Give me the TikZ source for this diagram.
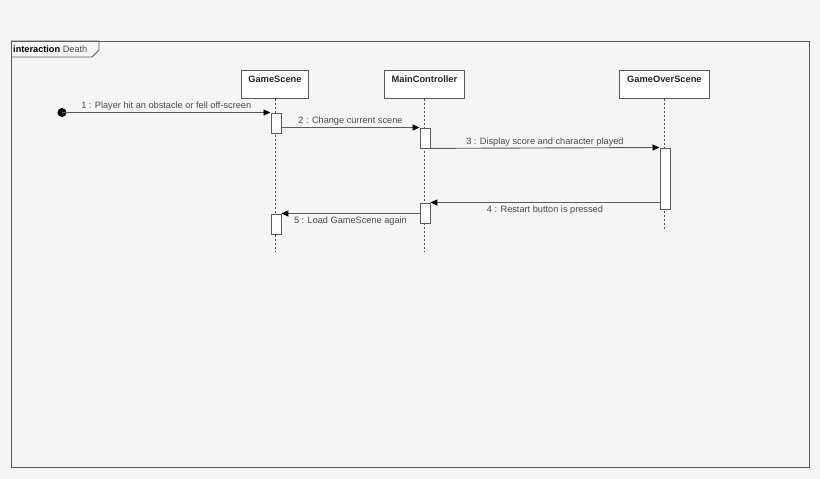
\documentclass[tikz,border=0pt]{standalone}
\usepackage{fontspec}
\setmainfont{Liberation Sans}
\definecolor{bgGray}{HTML}{F5F5F5}
\definecolor{lineGray}{HTML}{5A5A5A}
\definecolor{textGray}{HTML}{4A4A4A}
\usetikzlibrary{arrows.meta,positioning}

\tikzset{
  head/.style={draw=lineGray, line width=0.9pt, fill=white, minimum height=28pt, anchor=north west, inner sep=0pt,
    font=\fontsize{9.3}{11}\selectfont\bfseries, text=black!85, align=center, text depth=10pt},
  activation/.style={draw=lineGray, line width=0.9pt, fill=white, minimum width=10pt, anchor=north west, inner sep=0pt},
  lifeline/.style={draw=black!70, line width=1pt, dash pattern=on 2pt off 2pt},
  msg/.style={draw=lineGray, line width=0.9pt, -{Triangle[length=7pt,width=6pt,color=black]}},
  msglabel/.style={font=\fontsize{9.2}{11}\selectfont, text=textGray, inner sep=1.5pt}
}

\begin{document}
\begin{tikzpicture}[x=1pt, y=-1pt]
  \useasboundingbox[fill=bgGray] (0,0) rectangle (820,479);
  % Frame
  \draw[lineGray, line width=0.9pt] (11,41) rectangle (809,467);
  \draw[lineGray, line width=0.9pt] (11,41) -- (99,41) -- (99,50) -- (92,57) -- (11,57);
  \node[anchor=west, inner sep=0pt, font=\fontsize{9.2}{11}\selectfont] (title) at (13,49) {\textbf{interaction} \textcolor{textGray}{Death}};
  % Lifeline heads
  \node[head, minimum width=67pt] (gs) at (241,70) {GameScene};
  \node[head, minimum width=80pt] (mc) at (384,70) {MainController};
  \node[head, minimum width=90pt] (gos) at (619,70) {GameOverScene};
  % Lifelines
  \coordinate (gsEnd) at (275.5,251);
  \coordinate (mcEnd) at (424.5,251);
  \coordinate (gosEnd) at (664.5,230);
  \draw[lifeline] (gsEnd |- gs.south) -- (gsEnd);
  \draw[lifeline] (mcEnd |- mc.south) -- (mcEnd);
  \draw[lifeline] (gosEnd |- gos.south) -- (gosEnd);
  % Activations
  \node[activation, minimum height=20pt] (gsAct1) at (270.5,112.5) {};
  \node[activation, minimum height=20pt] (mcAct1) at (419.5,127.5) {};
  \node[activation, minimum height=61pt] (gosAct) at (659.5,147.5) {};
  \node[activation, minimum height=20pt] (mcAct2) at (419.5,202.5) {};
  \node[activation, minimum height=20pt] (gsAct2) at (270.5,213.5) {};
  % Start point
  \node[circle, fill=black, minimum size=9pt, inner sep=0pt] (start) at (62,112.5) {};
  % Messages
  \draw[msg] (start.center) -- (gsAct1.north west) node[msglabel, midway, above] {1 : Player hit an obstacle or fell off-screen};
  \draw[msg] (gsAct1.east |- 0,127.5) -- (mcAct1.west |- 0,127.5) node[msglabel, midway, above] {2 : Change current scene};
  \draw[msg] (mcAct1.south east) -- (gosAct.north west) node[msglabel, midway, above] {3 : Display score and character played};
  \draw[msg] (gosAct.west |- mcAct2.north) -- (mcAct2.north east) node[msglabel, midway, below, yshift=-1pt] {4 : Restart button is pressed};
  \draw[msg] (mcAct2.west |- gsAct2.north) -- (gsAct2.north east) node[msglabel, midway, below, yshift=-1pt] {5 : Load GameScene again};
\end{tikzpicture}
\end{document}
